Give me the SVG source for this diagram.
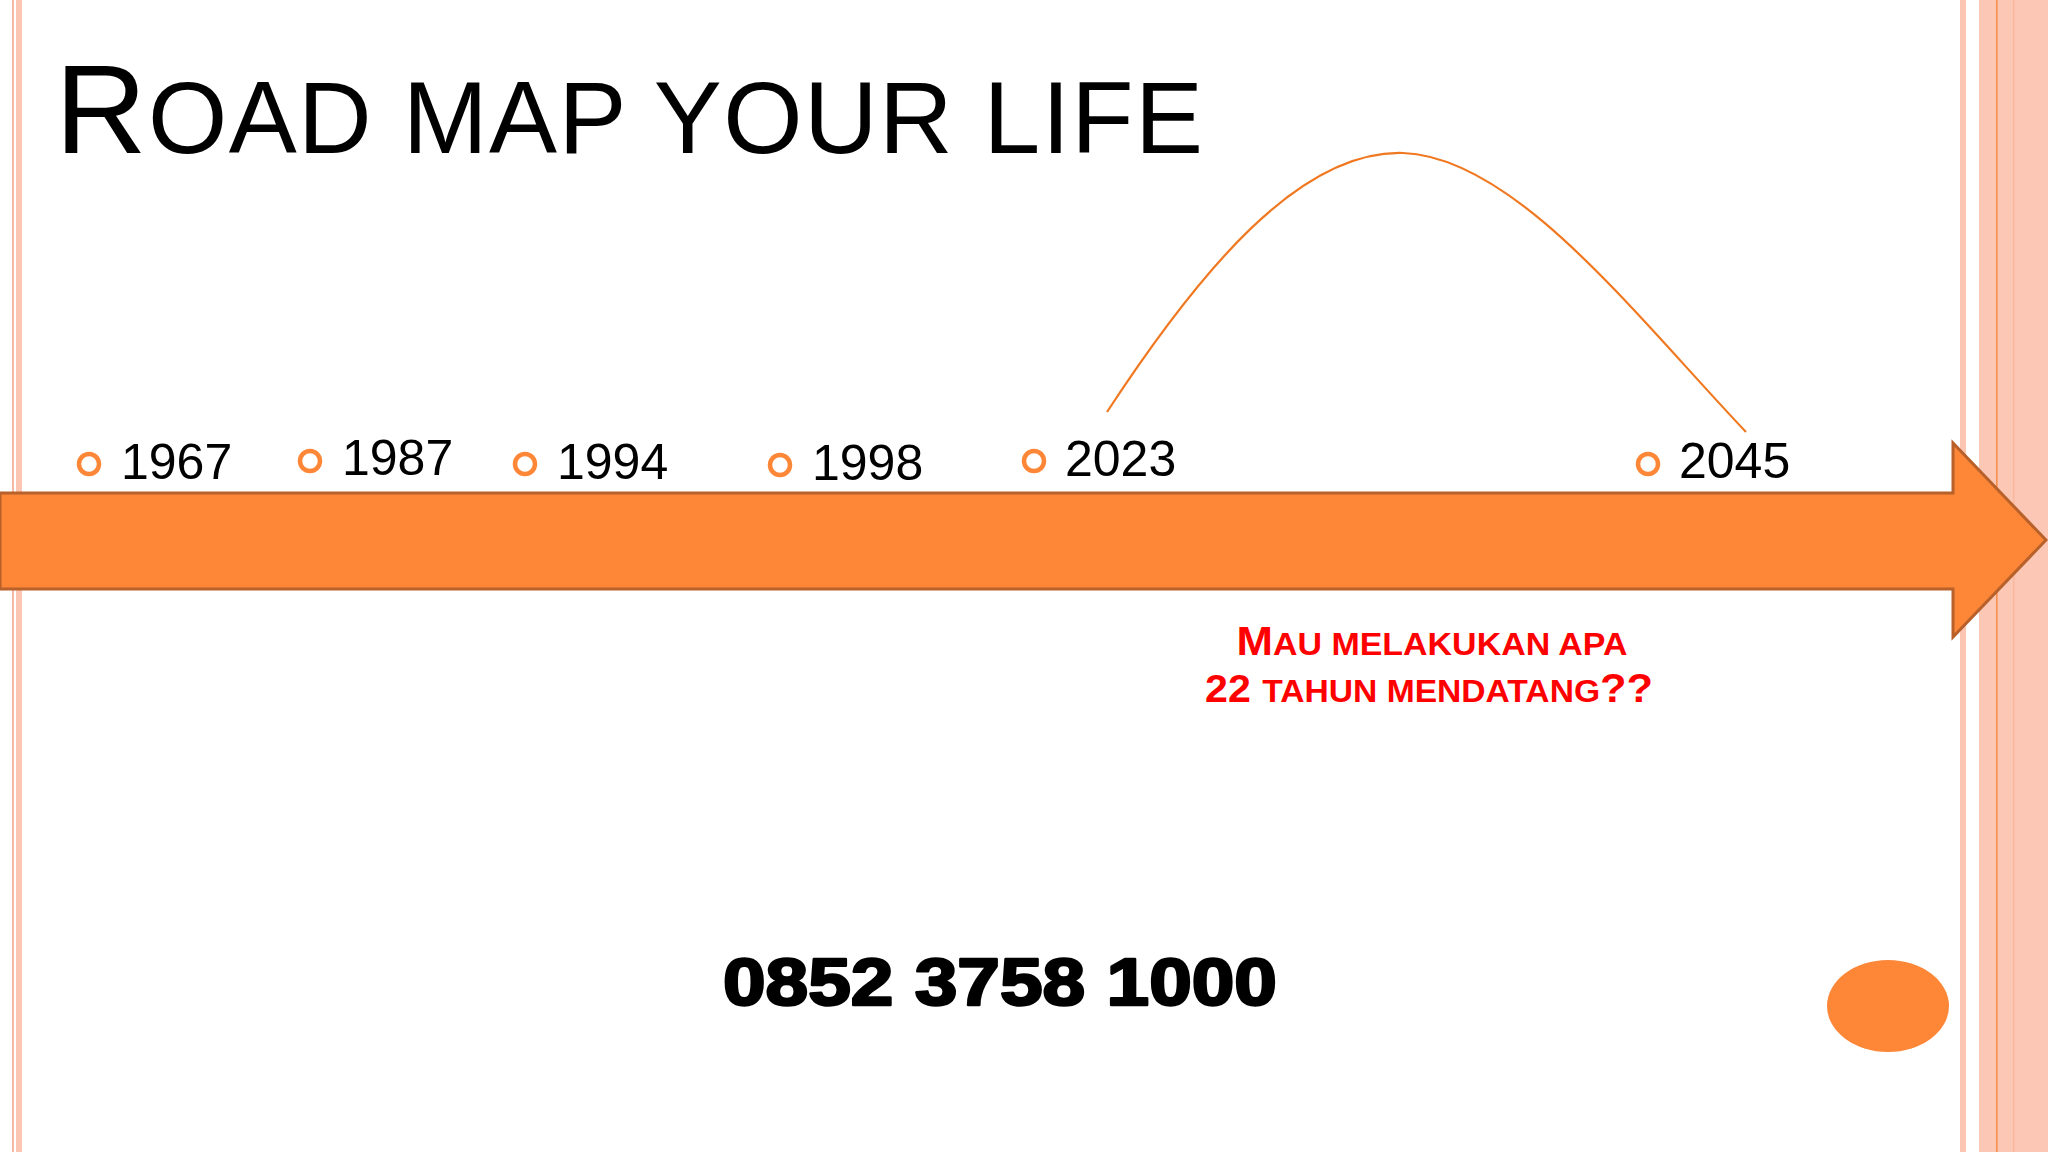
<svg xmlns="http://www.w3.org/2000/svg" width="2048" height="1152" viewBox="0 0 2048 1152">
  <style>
    .year { font-family: "Liberation Sans", Arial, sans-serif; font-size: 50px; fill: #000; }
    .dot { fill: none; stroke: #fd8637; stroke-width: 4.5; }
    .red { font-family: "Liberation Sans", Arial, sans-serif; font-weight: bold; fill: #ff0000; }
  </style>
  <rect x="0" y="0" width="2048" height="1152" fill="#ffffff"/>
  <!-- left border -->
  <g id="left-border">
    <rect x="12" y="0" width="2" height="1152" fill="#f7b9a6"/>
    <rect x="16" y="0" width="6" height="1152" fill="#fcc6b3"/>
  </g>
  <!-- right border -->
  <g id="right-border">
    <rect x="1960" y="0" width="6" height="1152" fill="#fcc6b3"/>
    <rect x="1979" y="0" width="69" height="1152" fill="#fcc8b5"/>
    <rect x="1996" y="0" width="1.6" height="1152" fill="#f7914d"/>
    <rect x="2013" y="0" width="1.5" height="1152" fill="#f9b89e"/>
  </g>
  <!-- title -->
  <g id="title">
    <text x="55" y="153" font-family="Liberation Sans, Arial, sans-serif" fill="#000" textLength="1148" lengthAdjust="spacing"><tspan font-size="127">R</tspan><tspan font-size="102">OAD MAP YOUR LIFE</tspan></text>
  </g>
  <!-- arrow -->
  <g id="timeline-arrow">
    <path d="M0,493 L1953,493 L1953,443 L2046,540 L1953,637 L1953,589 L0,589 Z" fill="#fd8637" stroke="#b8612b" stroke-width="3" stroke-linejoin="miter"/>
  </g>
  <!-- connectors -->
  <g id="connectors">
    <path d="M1107,412 C1200,270 1300,150 1403,153 C1515,157 1635,315 1746,432" fill="none" stroke="#f07820" stroke-width="2.2"/>
  </g>
  <!-- years -->
  <g id="year-1967"><circle class="dot" cx="89" cy="464" r="10"/><text class="year" x="121" y="479">1967</text></g>
  <g id="year-1987"><circle class="dot" cx="310" cy="461" r="10"/><text class="year" x="342" y="475">1987</text></g>
  <g id="year-1994"><circle class="dot" cx="525" cy="464" r="10"/><text class="year" x="557" y="479">1994</text></g>
  <g id="year-1998"><circle class="dot" cx="780" cy="465" r="10"/><text class="year" x="812" y="480">1998</text></g>
  <g id="year-2023"><circle class="dot" cx="1034" cy="461" r="10"/><text class="year" x="1065" y="476">2023</text></g>
  <g id="year-2045"><circle class="dot" cx="1648" cy="464" r="10"/><text class="year" x="1679" y="478">2045</text></g>
  <!-- question -->
  <g id="question">
    <text class="red" x="1432" y="655" text-anchor="middle" textLength="391" lengthAdjust="spacingAndGlyphs"><tspan font-size="40">M</tspan><tspan font-size="31">AU MELAKUKAN APA</tspan></text>
    <text class="red" x="1429" y="702" text-anchor="middle" textLength="448" lengthAdjust="spacingAndGlyphs"><tspan font-size="38">22 </tspan><tspan font-size="31">TAHUN MENDATANG</tspan><tspan font-size="40">??</tspan></text>
  </g>
  <!-- phone -->
  <g id="phone">
    <text x="723" y="1005" font-family="Liberation Sans, Arial, sans-serif" font-weight="bold" font-size="67" fill="#000" stroke="#000" stroke-width="2.5" stroke-linejoin="round" textLength="554" lengthAdjust="spacingAndGlyphs">0852 3758 1000</text>
  </g>
  <!-- decorative ellipse -->
  <g id="ellipse">
    <ellipse cx="1888" cy="1006" rx="61" ry="46" fill="#fd8637"/>
  </g>
</svg>
